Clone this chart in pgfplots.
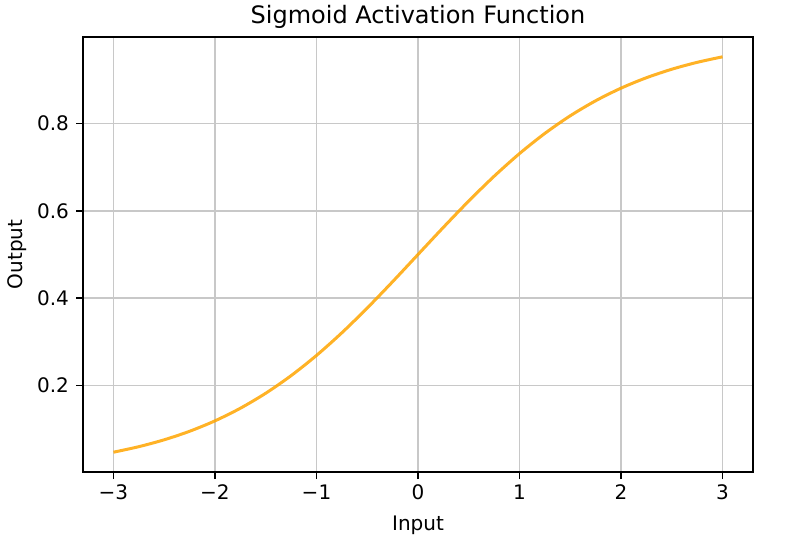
\documentclass[border=0pt]{standalone}
\usepackage{pgfplots}
\pgfplotsset{compat=1.18}
\usepackage{fontspec}
\setmainfont{DejaVu Sans}
\definecolor{gridc}{HTML}{C8C8C8}
\definecolor{linec}{HTML}{FFA500}
\begin{document}
\begin{tikzpicture}
\useasboundingbox (-41.5pt,-40pt) rectangle (356.5pt,236pt);
\begin{axis}[
  at={(0pt,0pt)}, anchor=south west,
  scale only axis,
  width=335pt, height=217.5pt,
  xmin=-3.3, xmax=3.3,
  ymin=0.0021, ymax=0.9979,
  xtick={-3,-2,-1,0,1,2,3},
  xticklabels={−3,−2,−1,0,1,2,3},
  ytick={0.2,0.4,0.6,0.8},
  yticklabels={0.2,0.4,0.6,0.8},
  tick align=outside,
  major tick length=3.5pt,
  every tick/.style={black, line width=0.8pt},
  tick pos=left,
  axis line style={black, line width=0.8pt},
  grid=major,
  major grid style={gridc, line width=0.8pt},
  xticklabel style={anchor=base, yshift=-10pt},
  yticklabel style={anchor=east},
  xlabel={Input}, ylabel={Output},
  xlabel style={at={(axis description cs:0.5,-0.1356)}, anchor=base},
  ylabel style={at={(axis description cs:-0.0896,0.5)}, anchor=base},
  every axis title shift=0pt,
  title={Sigmoid Activation Function},
  title style={at={(axis description cs:0.5,1.0299)}, anchor=base, font=\fontsize{12}{14}\selectfont},
]
\addplot[color=linec, opacity=0.85, line width=1.5pt, smooth] coordinates {
(-3,0.04743) (-2.75,0.06009) (-2.5,0.07586) (-2.25,0.09535) (-2,0.11920)
(-1.75,0.14805) (-1.5,0.18243) (-1.25,0.22270) (-1,0.26894) (-0.75,0.32082)
(-0.5,0.37754) (-0.25,0.43782) (0,0.5) (0.25,0.56218) (0.5,0.62246)
(0.75,0.67918) (1,0.73106) (1.25,0.77730) (1.5,0.81757) (1.75,0.85195)
(2,0.88080) (2.25,0.90465) (2.5,0.92414) (2.75,0.93991) (3,0.95257)
};
\end{axis}
\end{tikzpicture}
\end{document}
